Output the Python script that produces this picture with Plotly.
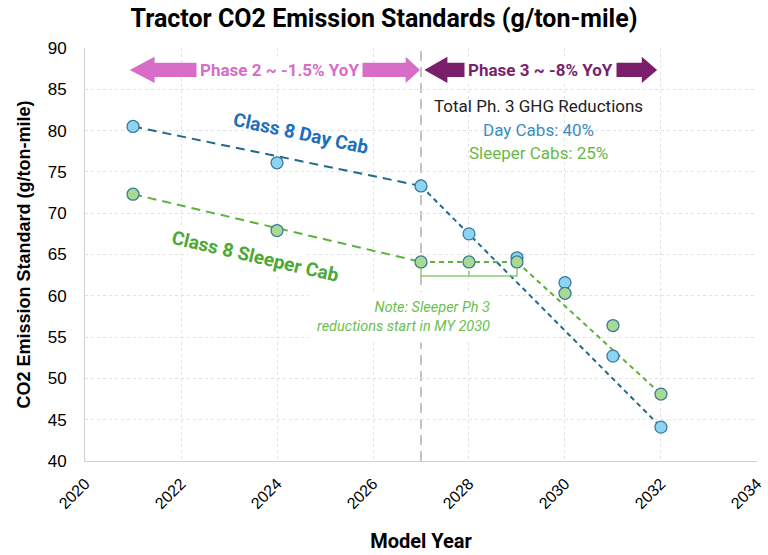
import plotly.graph_objects as go

# ---- data ----
years = [2021, 2024, 2027, 2028, 2029, 2030, 2031, 2032]
day_cab = [80.5, 76.1, 73.3, 67.5, 64.6, 61.6, 52.7, 44.1]
sleeper_cab = [72.3, 67.9, 64.1, 64.1, 64.1, 60.3, 56.4, 48.1]
x_ticks = [2020, 2022, 2024, 2026, 2028, 2030, 2032, 2034]
y_ticks = [40, 45, 50, 55, 60, 65, 70, 75, 80, 85, 90]

NARROW = "Roboto, sans-serif"
ARIAL = "Liberation Sans, Arial, sans-serif"

DAY_LINE = "#1F6B8C"
SLP_LINE = "#5DB33A"
DAY_FILL = "#8DD3F3"
SLP_FILL = "#A9DA92"
MK_EDGE = "#3A7B9C"

fig = go.Figure()

def seg(xs, ys, idx, color, dash):
    fig.add_trace(go.Scatter(x=[xs[i] for i in idx], y=[ys[i] for i in idx],
                             mode="lines", line=dict(color=color, width=2, dash=dash),
                             hoverinfo="skip", showlegend=False))

# trend segments
seg(years, day_cab, [0, 2], DAY_LINE, "9px,6px")
seg(years, day_cab, [2, 7], DAY_LINE, "5px,4px")
seg(years, sleeper_cab, [0, 2], SLP_LINE, "9px,6px")
seg(years, sleeper_cab, [2, 4], SLP_LINE, "5px,4px")
seg(years, sleeper_cab, [4, 7], SLP_LINE, "5px,4px")

fig.add_trace(go.Scatter(x=years, y=day_cab, mode="markers", name="Class 8 Day Cab",
                         marker=dict(size=12, color=DAY_FILL, line=dict(color=MK_EDGE, width=1.3)),
                         showlegend=False))
fig.add_trace(go.Scatter(x=years, y=sleeper_cab, mode="markers", name="Class 8 Sleeper Cab",
                         marker=dict(size=12, color=SLP_FILL, line=dict(color=MK_EDGE, width=1.3)),
                         showlegend=False))

shapes = []
# vertical phase divider
shapes.append(dict(type="line", xref="x", yref="paper", x0=2027, x1=2027, y0=0, y1=1,
                   line=dict(color="#C4C4C4", width=2, dash="10px,6px"), layer="below"))

def dbl_arrow(x0, x1, hx0, hx1, yc, hh, sh, color):
    p = (f"M {x0} {yc} L {hx0} {yc+hh} L {hx0} {yc+sh} L {hx1} {yc+sh} L {hx1} {yc+hh} "
         f"L {x1} {yc} L {hx1} {yc-hh} L {hx1} {yc-sh} L {hx0} {yc-sh} L {hx0} {yc-hh} Z")
    return dict(type="path", xref="x", yref="y", path=p, fillcolor=color,
                line=dict(width=0), layer="above")

PINK = "#D76CC9"
PURPLE = "#7B1F6C"
shapes.append(dbl_arrow(2020.93, 2026.98, 2021.45, 2026.68, 87.35, 1.6, 0.85, PINK))
shapes.append(dbl_arrow(2027.07, 2031.92, 2027.55, 2031.6, 87.35, 1.6, 0.85, PURPLE))

# bracket for sleeper note
BR = "#8CCB70"
shapes.append(dict(type="path", xref="x", yref="y",
                   path="M 2027 63.3 L 2027 62.4 L 2029 62.4 L 2029 63.3",
                   line=dict(color=BR, width=1.5)))
shapes.append(dict(type="line", xref="x", yref="y", x0=2028, x1=2028, y0=62.4, y1=63.0,
                   line=dict(color=BR, width=1.5)))

annotations = [
    dict(x=2024.05, y=87.35, text="<b>Phase 2 ~ -1.5% YoY</b>", showarrow=False,
         font=dict(family=NARROW, size=17, color=PINK), bgcolor="white", borderpad=3),
    dict(x=2029.5, y=87.35, text="<b>Phase 3 ~ -8% YoY</b>", showarrow=False,
         font=dict(family=NARROW, size=17, color=PURPLE), bgcolor="white", borderpad=3),
    dict(x=2029.45, y=83.0, text="Total Ph. 3 GHG Reductions", showarrow=False,
         font=dict(family=NARROW, size=17, color="#222222")),
    dict(x=2029.45, y=80.1, text="Day Cabs: 40%", showarrow=False,
         font=dict(family=NARROW, size=17, color="#3A8DBD")),
    dict(x=2029.45, y=77.3, text="Sleeper Cabs: 25%", showarrow=False,
         font=dict(family=NARROW, size=17, color="#6AB846")),
    dict(x=2024.5, y=79.6, text="<b>Class 8 Day Cab</b>", showarrow=False, textangle=12,
         font=dict(family=NARROW, size=19, color="#1A70C0")),
    dict(x=2023.55, y=64.8, text="<b>Class 8 Sleeper Cab</b>", showarrow=False, textangle=13,
         font=dict(family=NARROW, size=19, color="#4CA935"), bgcolor="white"),
    dict(x=2028.6, y=57.4, xanchor="right",
         text="<i>Note: Sleeper Ph 3<br>reductions start in MY 2030</i>",
         showarrow=False, align="right",
         font=dict(family=NARROW, size=14.5, color="#6BBF4E"), bgcolor="white", borderpad=7),
]

fig.update_layout(
    width=768, height=555,
    margin=dict(l=85, r=3, t=48, b=94),
    paper_bgcolor="white", plot_bgcolor="white",
    title=dict(text="<b>Tractor CO2 Emission Standards (g/ton-mile)</b>", x=0.5, xanchor="center",
               y=0.968, yanchor="middle",
               font=dict(family=NARROW, size=25, color="black")),
    xaxis=dict(range=[2019.999, 2034.001], tickvals=x_ticks, ticktext=[str(t) for t in x_ticks],
               tickangle=-45, tickfont=dict(family=ARIAL, size=16, color="black"),
               ticklabelstandoff=6, ticklabeloverflow="allow",
               showgrid=True, gridcolor="#E2E2E2", griddash="dot", gridwidth=1,
               zeroline=False, showline=True, linecolor="#D0D0D0", linewidth=1,
               title=dict(text="<b>Model Year</b>", font=dict(family=NARROW, size=20, color="black"),
                          standoff=22)),
    yaxis=dict(range=[40, 90], tickvals=y_ticks, tickfont=dict(family=ARIAL, size=17, color="black"),
               showgrid=True, gridcolor="#E2E2E2", griddash="dot", gridwidth=1,
               zeroline=False, showline=True, linecolor="#D0D0D0", linewidth=1,
               ticklabelstandoff=14,
               title=dict(text="<b>CO2 Emission Standard (g/ton-mile)</b>",
                          font=dict(family=ARIAL, size=18, color="black"), standoff=12)),
    shapes=shapes, annotations=annotations,
)

fig.write_html("out.html")
